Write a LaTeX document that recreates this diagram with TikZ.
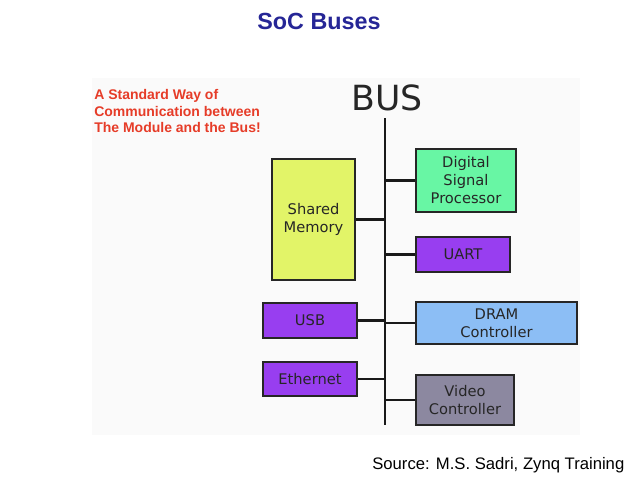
\documentclass[tikz,border=0pt]{standalone}
\usepackage{fontspec}
\setmainfont{Liberation Sans}
\newfontfamily\boxfont{DejaVu Sans}
\definecolor{ttl}{RGB}{38,38,150}
\definecolor{red1}{RGB}{230,60,40}
\definecolor{ylw}{RGB}{226,244,104}
\definecolor{grn}{RGB}{104,246,164}
\definecolor{pur}{RGB}{152,62,240}
\definecolor{blu}{RGB}{140,190,245}
\definecolor{gry}{RGB}{140,136,160}
\begin{document}
\begin{tikzpicture}[x=0.75pt,y=-0.75pt]
\tikzset{blk/.style={draw=black!85,line width=1.5pt,inner sep=0pt,font=\boxfont\fontsize{11}{13.5}\selectfont,align=center,text=black!85},
 wire/.style={line width=2.2pt,black!90}}
\useasboundingbox (0,0) rectangle (638,478);
\fill[gray!4] (92,78) rectangle (580,435);
\node[font=\bfseries\fontsize{17.5}{20}\selectfont,text=ttl] (title) at (319,21) {SoC Buses};
\node[font=\bfseries\fontsize{10.5}{12.5}\selectfont,text=red1,align=left,anchor=north west,inner sep=0pt] (note) at (94,89) {A Standard Way of\\Communication between\\The Module and the Bus!};
\node[font=\boxfont\fontsize{26}{28}\selectfont,text=black!85] (bus) at (387,98) {BUS};
\coordinate (bt) at (385,118);
\coordinate (bb) at (385,425);
\draw[wire] (bt) -- (bb);
\node[blk,fill=ylw,minimum width=62pt,minimum height=91pt] (sm) at (313.5,219.5) {Shared\\Memory};
\node[blk,fill=grn,minimum width=75pt,minimum height=47pt] (dsp) at (466,180.5) {Digital\\Signal\\Processor};
\node[blk,fill=pur,minimum width=70.5pt,minimum height=26pt] (uart) at (463,254.5) {UART};
\node[blk,fill=pur,minimum width=70.5pt,minimum height=26pt] (usb) at (310,320.5) {USB};
\node[blk,fill=blu,minimum width=121pt,minimum height=31.5pt] (dram) at (496.5,323) {DRAM\\Controller};
\node[blk,fill=pur,minimum width=70.5pt,minimum height=26pt] (eth) at (310,379) {Ethernet};
\node[blk,fill=gry,minimum width=73.5pt,minimum height=37.5pt] (vid) at (465,400) {Video\\Controller};
\draw[wire] (sm.east) -- (sm.east -| bt);
\draw[wire] (dsp.west) -- (dsp.west -| bt);
\draw[wire] (uart.west) -- (uart.west -| bt);
\draw[wire] (usb.east) -- (usb.east -| bt);
\draw[wire] (dram.west) -- (dram.west -| bt);
\draw[wire] (eth.east) -- (eth.east -| bt);
\draw[wire] (vid.west) -- (vid.west -| bt);
\node[font=\fontsize{12.5}{14}\selectfont,anchor=east] (src) at (629,465) {Source: M.S. Sadri, Zynq Training};
\end{tikzpicture}
\end{document}
